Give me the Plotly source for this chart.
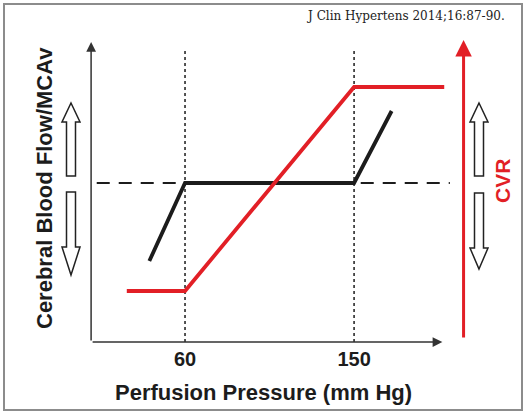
import plotly.graph_objects as go

# schematic values (x = perfusion pressure, y = arbitrary units)
cbf_pressure = [41, 60, 150, 170]
cbf_flow = [27, 53, 53, 77]
cvr_pressure = [29, 60, 150, 198]
cvr_value = [17, 17, 85, 85]
baseline_pressure = [13, 201]
baseline_flow = [53, 53]
limit_pressures = [60, 150]
limit_top = 98
tick_labels = ["60", "150"]

W, H = 528, 415
PLOT_H = 345  # plot area height in px (bottom margin 70)
X_RANGE = [-38.5, 242.6]
Y_RANGE = [-1, 114]

BLACK = "#1c1c1c"
RED = "#e21f26"
SANS = "Liberation Sans, Arial, sans-serif"


def px(x, y):
    # pixel position in the picture -> paper coords
    return x / W, (PLOT_H - y) / PLOT_H


def hollow_arrow(cx, tip, base, end):
    hw, sw = 9, 4.5
    pts = [(cx, tip), (cx + hw, base), (cx + sw, base), (cx + sw, end),
           (cx - sw, end), (cx - sw, base), (cx - hw, base)]
    path = ""
    for i, (a, b) in enumerate(pts):
        u, v = px(a, b)
        path += ("M" if i == 0 else "L") + f"{u:.5f},{v:.5f} "
    return dict(type="path", xref="paper", yref="paper", path=path + "Z",
                line=dict(color="#222", width=1.5), fillcolor="white")


fig = go.Figure()

for p in limit_pressures:
    fig.add_trace(go.Scatter(x=[p, p], y=[0, limit_top], mode="lines",
                             line=dict(color=BLACK, width=1.5, dash="dot"),
                             hoverinfo="skip"))

fig.add_trace(go.Scatter(x=baseline_pressure, y=baseline_flow, mode="lines",
                         line=dict(color=BLACK, width=2, dash="13px,9px")))
fig.add_trace(go.Scatter(x=cbf_pressure, y=cbf_flow, mode="lines",
                         line=dict(color=BLACK, width=3.8)))
fig.add_trace(go.Scatter(x=cvr_pressure, y=cvr_value, mode="lines",
                         line=dict(color=RED, width=3.8)))

# axes drawn as arrows
fig.add_annotation(x=10, y=100, ax=10, ay=0, xref="x", yref="y", axref="x", ayref="y",
                   text="", showarrow=True, arrowhead=2, arrowsize=1.3,
                   arrowwidth=1.5, arrowcolor="#333")
fig.add_annotation(x=197, y=0, ax=10, ay=0, xref="x", yref="y", axref="x", ayref="y",
                   text="", showarrow=True, arrowhead=2, arrowsize=1.3,
                   arrowwidth=1.5, arrowcolor="#333")
fig.add_annotation(x=208.3, y=100.7, ax=208.3, ay=1, xref="x", yref="y", axref="x", ayref="y",
                   text="", showarrow=True, arrowhead=2, arrowsize=1.1,
                   arrowwidth=3, arrowcolor=RED)

shapes = [
    hollow_arrow(71, 103, 122, 176),
    hollow_arrow(71, 275, 247, 192),
    hollow_arrow(479, 103, 122, 176),
    hollow_arrow(479, 269, 248, 193),
]
x0, y0 = px(4, 4)
x1, y1 = px(522, 410)
shapes.append(dict(type="rect", xref="paper", yref="paper", x0=x0, y0=y1, x1=x1, y1=y0,
                   line=dict(color="#8c8c8c", width=2), layer="below"))

texts = [
    ("Cerebral Blood Flow/MCAv", 44, 188, -90, 22, BLACK, SANS, "center"),
    ("CVR", 503, 181, -90, 21, RED, SANS, "center"),
    ("Perfusion Pressure (mm Hg)", 263, 392, 0, 22, BLACK, SANS, "center"),
]
for t, x, y, ang, size, col, fam, anc in texts:
    u, v = px(x, y)
    fig.add_annotation(x=u, y=v, xref="paper", yref="paper", text=t, textangle=ang,
                       showarrow=False, xanchor=anc, yanchor="middle",
                       font=dict(family=fam, size=size, color=col, weight="bold"))

u, v = px(507, 16)
fig.add_annotation(x=u, y=v, xref="paper", yref="paper", text="J Clin Hypertens 2014;16:87-90.",
                   showarrow=False, xanchor="right", yanchor="middle",
                   font=dict(family="DejaVu Serif, serif", size=12, color="#222"))

fig.update_layout(
    width=W, height=H,
    margin=dict(l=0, r=0, t=0, b=H - PLOT_H),
    plot_bgcolor="white", paper_bgcolor="white",
    showlegend=False, shapes=shapes,
    xaxis=dict(range=X_RANGE, showgrid=False, zeroline=False, showline=False,
               tickvals=limit_pressures, ticktext=tick_labels, ticks="",
               tickfont=dict(family=SANS, size=20, color=BLACK, weight="bold")),
    yaxis=dict(range=Y_RANGE, showgrid=False, zeroline=False, showline=False,
               showticklabels=False),
)

fig.write_html("out.html", config={"displayModeBar": False},
               post_script="document.body.style.margin='0';")
